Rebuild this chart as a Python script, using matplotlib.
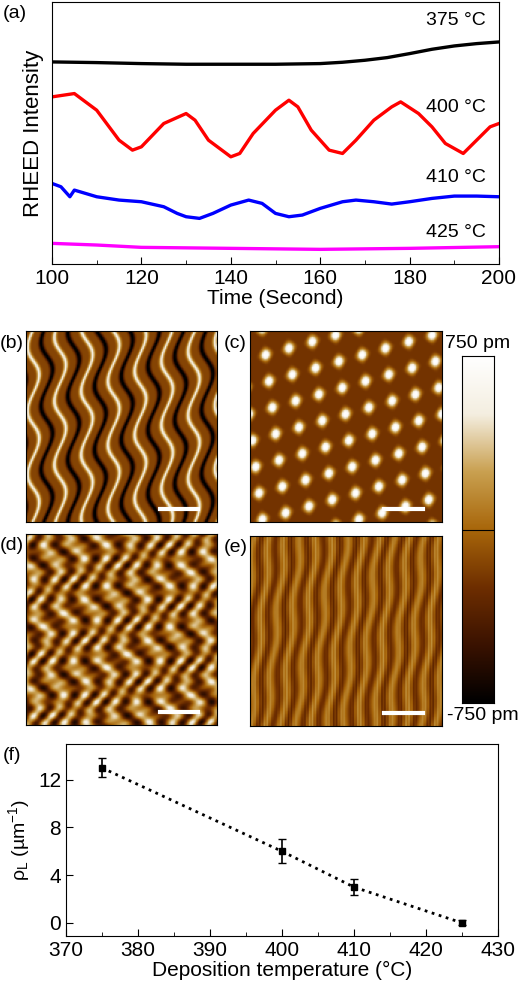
import numpy as np
import matplotlib
matplotlib.use("Agg")
import matplotlib.pyplot as plt
from matplotlib.colors import LinearSegmentedColormap

# ---- data ----
t_375 = [100,110,120,130,140,150,160,165,170,175,180,185,190,195,200]
v_375 = [607,605,602,600,600,600,602,606,612,620,632,645,655,662,667]
t_400 = [100,105,110,115,118,120,125,130,132,135,140,142,145,150,153,155,158,162,165,168,172,176,178,182,185,188,192,195,198,200]
v_400 = [502,512,462,372,342,352,422,452,432,372,322,332,392,462,492,472,402,342,332,372,432,472,487,452,412,362,332,372,412,422]
t_410 = [100,102,104,105,110,115,120,125,128,130,133,136,140,144,147,150,153,156,160,165,168,172,176,180,185,190,195,200]
v_410 = [242,232,202,222,202,192,187,172,152,142,137,152,177,192,182,152,142,147,167,187,192,187,180,187,197,204,204,202]
t_425 = [100,110,120,140,160,180,200]
v_425 = [62,57,50,47,44,47,52]
temp_labels = ["375 °C","400 °C","410 °C","425 °C"]

temps = [375,400,410,425]
rho = [13.0,6.0,3.0,0.0]
rho_err = [0.8,1.0,0.7,0.2]

W, H = 520, 984
fig = plt.figure(figsize=(W/100, H/100), dpi=100)
plt.rcParams['font.family'] = ['Liberation Sans', 'DejaVu Sans']

def ax_px(x0, y0, x1, y1):
    return fig.add_axes([x0/W, 1-y1/H, (x1-x0)/W, (y1-y0)/H])

# ---- panel a ----
a = ax_px(52, 2, 499, 264)
a.plot(t_375, v_375, color='black', lw=2.4)
a.plot(t_400, v_400, color='#ff0000', lw=2.4)
a.plot(t_410, v_410, color='#0000ff', lw=2.4)
a.plot(t_425, v_425, color='#ff00ff', lw=2.4)
a.set_xlim(100, 200); a.set_ylim(0, 787)
a.set_yticks([])
a.set_xticks([100,120,140,160,180,200])
a.set_xticks(range(110,200,20), minor=True)
a.tick_params(axis='x', direction='in', labelsize=15, length=5)
a.tick_params(axis='x', which='minor', direction='in', length=3)
a.set_xlabel("Time (Second)", fontsize=15, labelpad=1)
a.set_ylabel("RHEED Intensity", fontsize=16, labelpad=6)
for lab, y in zip(temp_labels, [730, 470, 260, 95]):
    a.text(197, y, lab, ha='right', va='center', fontsize=14)
fig.text(3/W, 1-14/H, "(a)", fontsize=14, va='center')

# ---- AFM images ----
cmap = LinearSegmentedColormap.from_list("afm", ["#000000", "#3a1200", "#6e2e00", "#a8660a", "#c9a050", "#f4eee0", "#ffffff"])
n = 128
yy, xx = np.mgrid[0:n, 0:n] / n

def stripes(period, wav, amp, tilt):
    ph = 2*np.pi*(xx + tilt*yy + wav*np.sin(2*np.pi*yy*3 + 7*xx)) / period
    return amp*np.sin(ph)

img_b = np.clip(stripes(0.14, 0.03, 1.0, 0.0), -1, 1)**7 * 0.9 - 0.2
img_c = 1.4*np.clip(np.sin(2*np.pi*(xx*5+yy*3))*np.sin(2*np.pi*(xx*3-yy*4)), 0, 1)**2 - 0.3
img_d = 0.5*stripes(0.12, 0.05, 1.0, 0.15) + 0.3*np.sin(2*np.pi*yy*14)*np.sin(2*np.pi*xx*9) - 0.05
img_e = 0.25*stripes(0.08, 0.01, 1.0, 0.1) + 0.1*np.sin(2*np.pi*xx*60) - 0.1
imgs = [img_b, img_c, img_d, img_e]
boxes = [(26,331,217,522),(250,331,442,522),(26,534,217,725),(250,536,442,726)]
labs = ["(b)","(c)","(d)","(e)"]
for im, (x0,y0,x1,y1), lab in zip(imgs, boxes, labs):
    ax = ax_px(x0,y0,x1,y1)
    ax.imshow(im, cmap=cmap, vmin=-1, vmax=1, aspect='auto', extent=[0,1,0,1])
    ax.set_xticks([]); ax.set_yticks([])
    ax.plot([0.70, 0.90], [0.07, 0.07], color='white', lw=3)
    ax.set_xlim(0,1); ax.set_ylim(0,1)
    fig.text((x0-26)/W, 1-(y0+12)/H, lab, fontsize=14, va='center')

# colorbar
cb = ax_px(462, 356, 494, 703)
cb.imshow(np.linspace(1,-1,256)[:,None], cmap=cmap, vmin=-1, vmax=1, aspect='auto', extent=[0,1,-1,1])
cb.axhline(0, color='black', lw=0.8)
cb.set_xticks([]); cb.set_yticks([])
fig.text(510/W, 1-343/H, "750 pm", fontsize=14, ha='right', va='center')
fig.text(519/W, 1-716/H, "-750 pm", fontsize=14, ha='right', va='center')

# ---- panel f ----
f = ax_px(66, 744, 498, 936)
f.errorbar(temps, rho, yerr=rho_err, fmt='s', color='black', ms=5, capsize=3, lw=1.2)
f.plot(temps, rho, ':', color='black', lw=2)
f.set_xlim(370, 430); f.set_ylim(-1.1, 15)
f.set_xticks(range(370, 431, 10)); f.set_xticks(range(375, 430, 10), minor=True)
f.set_yticks([0,4,8,12])
f.tick_params(direction='in', labelsize=15, length=5)
f.tick_params(which='minor', direction='in', length=3)
f.set_xlabel("Deposition temperature (°C)", fontsize=15, labelpad=1)
f.set_ylabel(r"$\mathregular{\rho_L}$ (µm$\mathregular{^{-1}}$)", fontsize=14, labelpad=4)
fig.text(3/W, 1-755/H, "(f)", fontsize=14, va='center')

fig.savefig("out.png", dpi=100)
